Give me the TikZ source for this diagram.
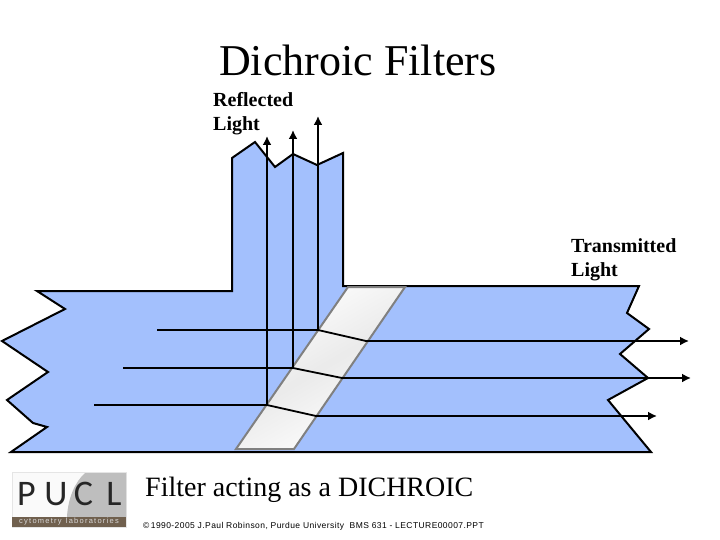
\documentclass[tikz,border=0pt]{standalone}
\usepackage{fontspec}
\setmainfont{Liberation Serif}
\setsansfont{Liberation Sans}
\newfontfamily\logofont{Carlito}
\usepackage{tikz}
\usetikzlibrary{arrows.meta}
\definecolor{beamblue}{RGB}{163,192,253}
\definecolor{logogray}{RGB}{190,190,190}
\definecolor{logobrown}{RGB}{112,96,78}
\tikzset{
  beam/.style={draw=black,line width=2pt,fill=beamblue,line join=miter},
  ray/.style={draw=black,line width=1.8pt},
  rayout/.style={ray,-{Latex[length=9pt,width=9pt]}},
  filterglass/.style={draw=gray,line width=2pt,top color=white,bottom color=white,middle color=black!8,shading angle=30},
  lbl/.style={inner sep=0pt,anchor=base west,font=\fontsize{20}{20}\selectfont\bfseries}
}
\begin{document}
\begin{tikzpicture}[x=1pt,y=-1pt]
      \useasboundingbox (0,0) rectangle (720,540);
      % Beam
      \draw[beam] (37,291) -- (65,309) -- (2,341) -- (48,372) -- (7,400)
      -- (33,423) -- (47,427) -- (11,452) -- (651,452) -- (608,400)
      -- (648,378) -- (620,354) -- (649,329) -- (627,313) -- (639,286)
      -- (343,286) -- (343,153) -- (317,165) -- (293,154) -- (275,167)
      -- (255,142) -- (232,158) -- (232,291) -- cycle;
      % Filter
      \draw[filterglass] (348,287) -- (405,287) -- (294,449) -- (236,449) -- cycle;
      % Ray points
      \coordinate (inA) at (157,330);
      \coordinate (hitA) at (318,330);
      \coordinate (exitA) at (366,341);
      \coordinate (outA) at (689,341);
      \coordinate (upA) at (318,116);
      \coordinate (inB) at (123,368);
      \coordinate (hitB) at (293,368);
      \coordinate (exitB) at (342,378);
      \coordinate (outB) at (691,378);
      \coordinate (upB) at (293,130);
      \coordinate (inC) at (94,405);
      \coordinate (hitC) at (267,405);
      \coordinate (exitC) at (316,416);
      \coordinate (outC) at (657,416);
      \coordinate (upC) at (267,136);
      % Rays
      \foreach \n in {A,B,C} {
        \draw[ray] (in\n) -- (hit\n);
        \draw[rayout] (hit\n) -- (up\n);
        \draw[rayout] (hit\n) -- (exit\n) -- (out\n);
      }
      % Logo
      \node[draw=black!10,fill=black!2,line width=0.5pt,minimum width=114pt,minimum height=55pt,inner sep=0pt] (logo) at (69,500) {};
      \fill[logogray] (126,473) -- (126,517) -- (67,517) .. controls (68,498) and (75,482) .. (85,473) -- cycle;
      \fill[logobrown] (12,517) rectangle (126,527);
      \node[inner sep=0pt,font=\sffamily\fontsize{7.5}{7.5}\selectfont,text=black!15] (logosub) at (69,522) {c\,y\,t\,o\,m\,e\,t\,r\,y\ \ l\,a\,b\,o\,r\,a\,t\,o\,r\,i\,e\,s};
      \foreach \ch/\px/\nm in {P/26.5/logoP,U/56/logoU,C/83.5/logoC,L/114/logoL}
        \node[inner sep=0pt,font=\logofont\fontsize{36}{36}\selectfont,text=black!85] (\nm) at (\px,494) {\ch};
      % Labels
      \node[inner sep=0pt,anchor=base west,font=\fontsize{44}{44}\selectfont] (title) at (219,76) {Dichroic Filters};
      \node[lbl] (reflA) at (213,107) {Reflected};
      \node[lbl] (reflB) at (213,131) {Light};
      \node[lbl] (tranA) at (571,252) {Transmitted};
      \node[lbl] (tranB) at (571,276) {Light};
      \node[inner sep=0pt,anchor=base west,font=\fontsize{28}{28}\selectfont] (caption) at (145,496) {Filter acting as a DICHROIC};
      \node[inner sep=0pt,anchor=base west,font=\sffamily\fontsize{8.5}{8.5}\selectfont\addfontfeature{LetterSpace=5}] (credit) at (143,528) {\textcopyright\,1990-2005 J.Paul Robinson, Purdue University\ \ BMS 631 - LECTURE00007.PPT};
    \end{tikzpicture}
\end{document}
